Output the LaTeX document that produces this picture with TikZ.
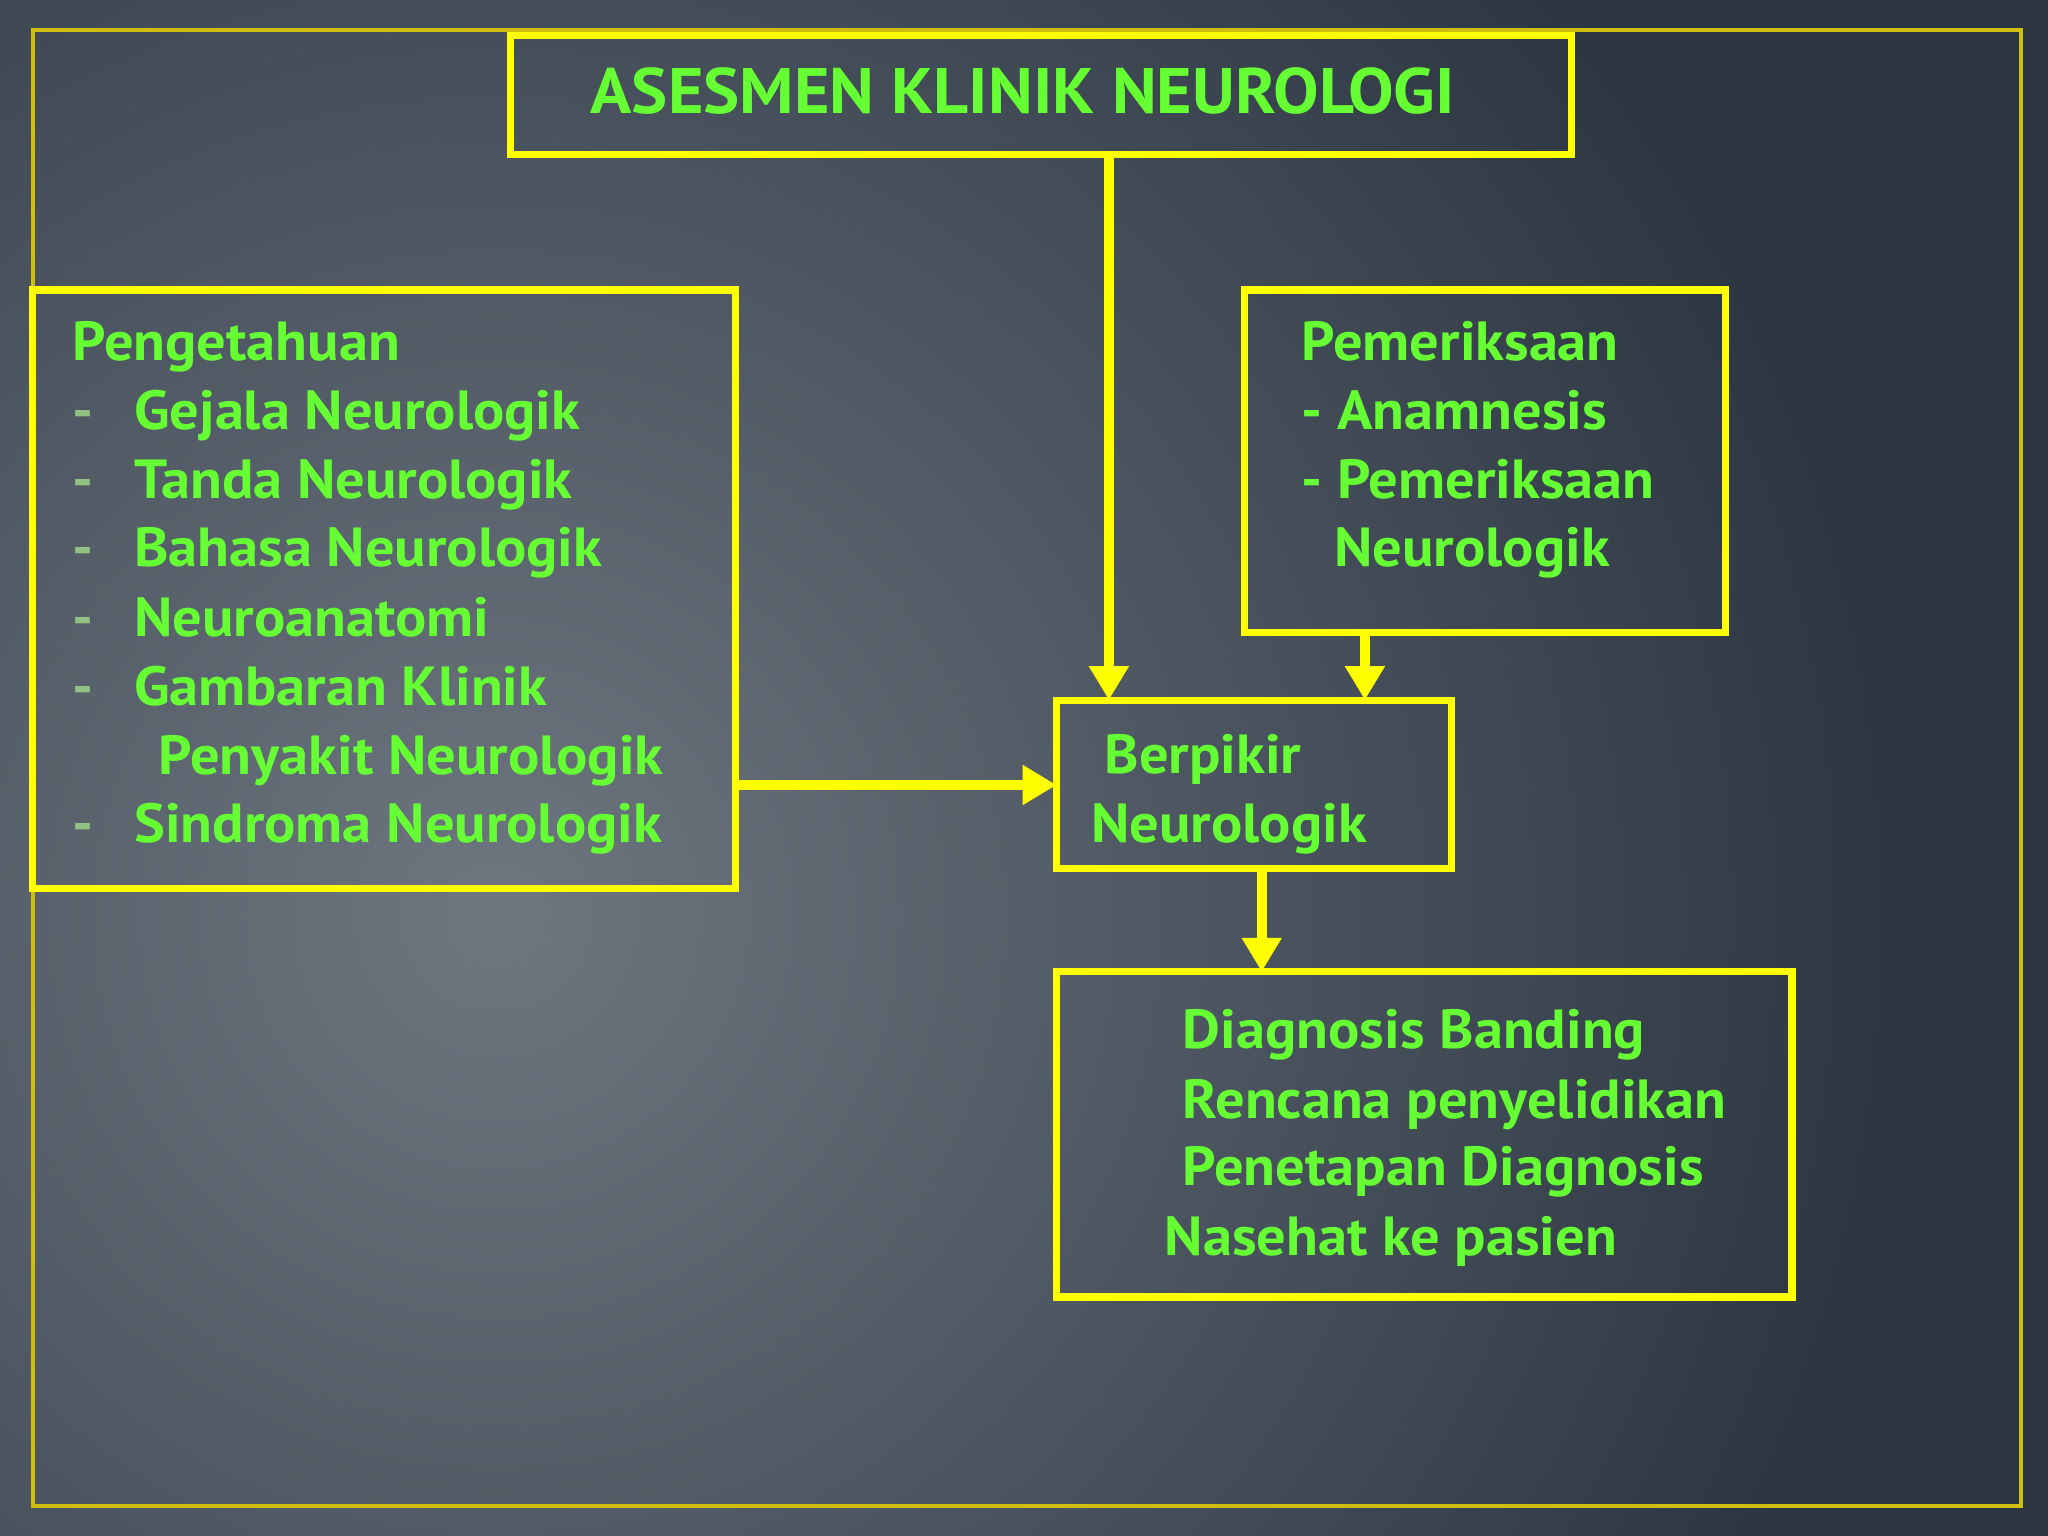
\documentclass[tikz,border=0pt]{standalone}
\usepackage{fontspec}
\setmainfont{PT Sans}[FakeStretch=1.06]
\usetikzlibrary{arrows.meta}
\definecolor{bgdark}{HTML}{2B3540}
\definecolor{bglight}{HTML}{6E7780}
\definecolor{ylw}{HTML}{FFFF00}
\definecolor{frm}{HTML}{CDBE10}
\definecolor{grn}{HTML}{66FF33}
\tikzset{
  box/.style={draw=ylw,line width=0.55mm},
  txt/.style={anchor=base west,text=grn,font=\bfseries\fontsize{12}{14}\selectfont,inner sep=0},
  arr/.style={draw=ylw,line width=0.75mm,-{Triangle[length=2.6mm,width=2.9mm]}}
}
\begin{document}
\begin{tikzpicture}[x=0.1mm,y=-0.1mm]
\useasboundingbox (0,0) rectangle (1568,1176);
\fill[bgdark] (0,0) rectangle (1568,1176);
\begin{scope}
\clip (0,0) rectangle (1568,1176);
\shade[inner color=bglight,outer color=bgdark] (380,700) circle (1100);
\end{scope}
\draw[frm,line width=0.3mm] (25,23) rectangle (1547,1153);
% boxes
\draw[box] (391,27) rectangle (1203,118);
\node[text=grn,font=\bfseries\fontsize{14}{16}\selectfont,inner sep=0] (title) at (783,70) {ASESMEN KLINIK NEUROLOGI};
\draw[box] (25,222) rectangle (563,680);
\draw[box] (953,222) rectangle (1321,484);
\draw[box] (809,536) rectangle (1111,665);
\draw[box] (809,744) rectangle (1372,993);
\coordinate (t) at (849,118); \coordinate (tb) at (849,536);
\coordinate (r) at (1045,484); \coordinate (rb) at (1045,536);
\coordinate (l) at (563,601); \coordinate (lb) at (809,601);
\coordinate (b) at (966,665); \coordinate (bb) at (966,744);
\draw[arr] (t) -- (tb);
\draw[arr] (r) -- (rb);
\draw[arr] (l) -- (lb);
\draw[arr] (b) -- (bb);
% left text
\node[txt] (l0) at (55,276) {Pengetahuan};
\foreach \y/\t/\n in {329/Gejala Neurologik/a,382/Tanda Neurologik/b,434/Bahasa Neurologik/c,487/Neuroanatomi/d,540/Gambaran Klinik/e,645/Sindroma Neurologik/f}{
  \node[txt,text=grn!40!gray!80!white] (d\n) at (55,\y) {-};
  \node[txt] (i\n) at (102,\y) {\t};
}
\node[txt] (ig) at (121,593) {Penyakit Neurologik};
% right text
\node[txt] (r0) at (996,276) {Pemeriksaan};
\node[txt] (r1) at (996,329) {- Anamnesis};
\node[txt] (r2) at (996,382) {- Pemeriksaan};
\node[txt] (r3) at (1021,434) {Neurologik};
% berpikir
\node[txt] (b0) at (845,592) {Berpikir};
\node[txt] (b1) at (835,645) {Neurologik};
% diagnosis
\node[txt] (g0) at (905,803) {Diagnosis Banding};
\node[txt] (g1) at (905,856) {Rencana penyelidikan};
\node[txt] (g2) at (905,908) {Penetapan Diagnosis};
\node[txt] (g3) at (891,961) {Nasehat ke pasien};
\end{tikzpicture}
\end{document}
